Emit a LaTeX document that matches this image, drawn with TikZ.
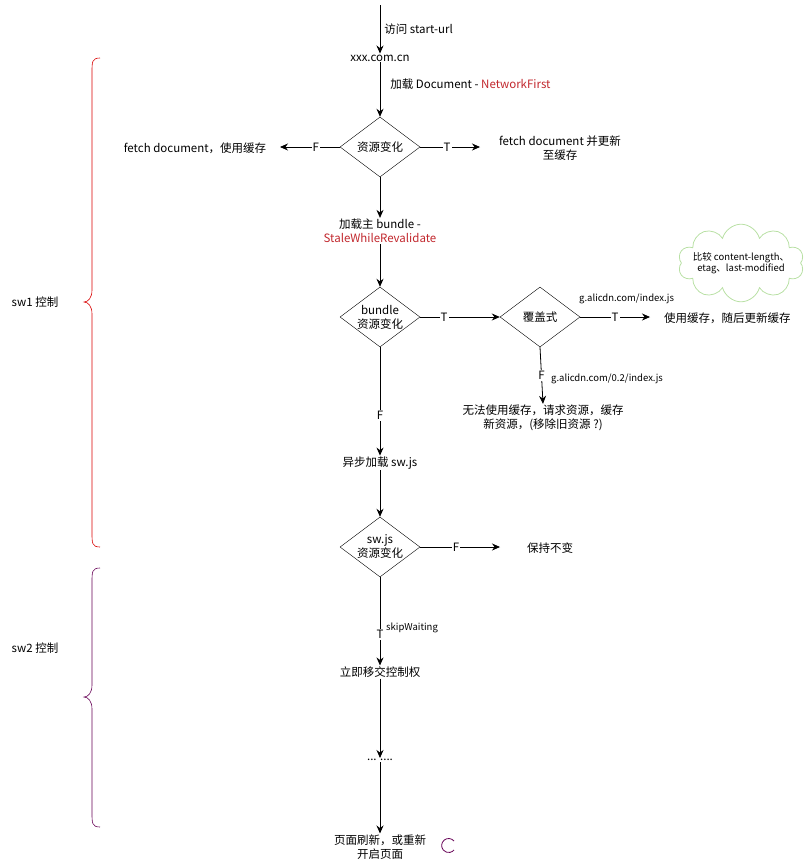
\documentclass[tikz,border=0pt]{standalone}
\usepackage{fontspec}
\setmainfont{Noto Sans CJK SC}
\usetikzlibrary{arrows.meta,shapes.geometric,shapes.symbols}
\definecolor{redc}{HTML}{C1272D}
\definecolor{purp}{HTML}{660055}
\definecolor{cloudg}{HTML}{B9E0A5}
\begin{document}
\begin{tikzpicture}[x=1pt,y=-1pt,
  every node/.style={font=\fontsize{11.5}{14}\selectfont, align=center, inner sep=1pt},
  small/.style={font=\fontsize{9.5}{11}\selectfont},
  dec/.style={draw, diamond, aspect=1.35, minimum width=80pt, minimum height=60pt, inner sep=0pt},
  arr/.style={draw, line width=0.8pt, -{Stealth[length=8pt,width=7pt]}},
  lab/.style={fill=white, inner sep=1pt}]
\useasboundingbox (0,0) rectangle (811,862);
\coordinate (top) at (380,5);
\node (url) at (380,58) {xxx.com.cn};
\draw[arr] (top) -- (url.north) node[pos=0.5, right=3pt] (l0) {访问 start-url};
\node[dec] (d1) at (380,147) {资源变化};
\draw[arr] (url.south) -- (d1.north) node[pos=0.4, right=9pt] (l1) {加载 Document - \textcolor{redc}{NetworkFirst}};
\node (fl) at (195,148) {fetch document，使用缓存};
\node (fr) at (560,148) {fetch document 并更新\\至缓存};
\coordinate (fle) at (280,147);
\coordinate (fre) at (480,147);
\draw[arr] (d1.west) -- (fle) node[pos=0.4, lab] (lf1) {F};
\draw[arr] (d1.east) -- (fre) node[pos=0.45, lab] (lt1) {T};
\node (b) at (380,231) {加载主 bundle -\\\textcolor{redc}{StaleWhileRevalidate}};
\draw[arr] (d1.south) -- (b.north);
\node[dec] (d2) at (380,317) {bundle\\资源变化};
\draw[arr] (b.south) -- (d2.north);
\node[dec] (d3) at (540,317) {覆盖式};
\draw[arr] (d2.east) -- (d3.west) node[pos=0.3, lab] (lt2) {T};
\node[anchor=west] (use) at (663,318) {使用缓存，随后更新缓存};
\coordinate (usee) at (650,317);
\draw[arr] (d3.east) -- (usee) node[pos=0.5, lab] (lt3) {T};
\node[small, anchor=west] (g1) at (578,299) {g.alicdn.com/index.js};
\node[cloud, draw=cloudg, line width=0.8pt, cloud puffs=10, aspect=2.3, minimum width=82pt, minimum height=44pt, small, inner sep=-6pt] (cl) at (741,263) {比较 content-length、\\etag、last-modified};
\node (nf) at (543,418) {无法使用缓存，请求资源，缓存\\新资源，(移除旧资源 ?)};
\draw[arr] (d3.south) -- (nf.north) node[pos=0.5, lab] (lf3) {F};
\node[small, anchor=west] (g2) at (550,379) {g.alicdn.com/0.2/index.js};
\node (sw) at (380,463) {异步加载 sw.js};
\draw[arr] (d2.south) -- (sw.north) node[pos=0.63, lab] (lf2) {F};
\node[dec] (d4) at (380,547) {sw.js\\资源变化};
\draw[arr] (sw.south) -- (d4.north);
\node (keep) at (550,548) {保持不变};
\coordinate (keepe) at (500,547);
\draw[arr] (d4.east) -- (keepe) node[pos=0.45, lab] (lf4) {F};
\node (imm) at (380,672) {立即移交控制权};
\draw[arr] (d4.south) -- (imm.north) node[pos=0.65, lab] (lt4) {T};
\node[small, anchor=west] (skw) at (385,628) {skipWaiting};
\node (dots) at (380,760) {... ....};
\draw[arr] (imm.south) -- (dots.north);
\node (pg) at (380,847) {页面刷新，或重新\\开启页面};
\draw[arr] (dots.south) -- (pg.north);
\draw[purp, line width=0.8pt] (454,841) arc (-40:-320:7);
\draw[red!85!black, line width=0.6pt] (100,58) .. controls (92,58) and (92,62) .. (92,72) -- (92,290) .. controls (92,298) and (88,302) .. (84,302) .. controls (88,302) and (92,306) .. (92,314) -- (92,533) .. controls (92,543) and (92,547) .. (100,547);
\draw[purp, line width=0.6pt] (100,568) .. controls (92,568) and (92,572) .. (92,582) -- (92,685) .. controls (92,693) and (88,697) .. (84,697) .. controls (88,697) and (92,701) .. (92,709) -- (92,813) .. controls (92,823) and (92,827) .. (100,827);
\node (s1) at (35,302) {sw1 控制};
\node (s2) at (35,648) {sw2 控制};
\end{tikzpicture}
\end{document}
